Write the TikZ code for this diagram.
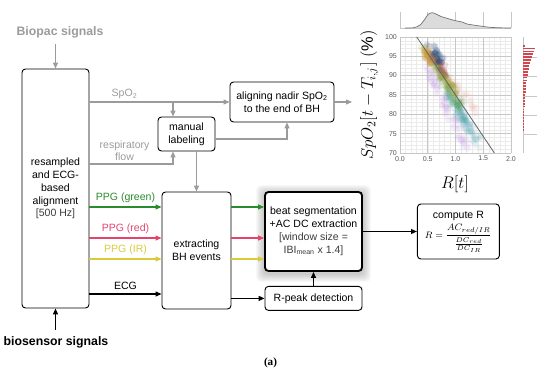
\documentclass[tikz,border=0pt]{standalone}
\usepackage{fontspec}
\setmainfont{Liberation Sans}
\newfontfamily\capfont{Liberation Serif}
\usepackage{tikz}
\usetikzlibrary{arrows.meta, positioning, calc, backgrounds}
\definecolor{lgray}{HTML}{9B9B9B}
\definecolor{txtgray}{HTML}{3C3C3C}
\definecolor{ppggreen}{HTML}{2A8A2E}
\definecolor{ppgred}{HTML}{E5436C}
\definecolor{ppgir}{HTML}{D8CB3A}
\definecolor{histred}{HTML}{D2474D}
\definecolor{scolive}{HTML}{A6A638}
\definecolor{scnavy}{HTML}{2F4F7F}
\definecolor{scmaroon}{HTML}{8F2F3F}
\definecolor{scgreen}{HTML}{5F9F4F}
\definecolor{sclilac}{HTML}{C9A6E6}
\definecolor{scteal}{HTML}{4FA6A6}
\definecolor{scpink}{HTML}{E8B0A8}
\definecolor{scorange}{HTML}{D79A3F}
\definecolor{scblue}{HTML}{8AB8D8}

\begin{document}
\begin{tikzpicture}[x=0.03cm, y=-0.03cm, font=\fontsize{9}{11}\selectfont,
    box/.style={draw, rounded corners=3pt, line width=0.8pt, fill=white, align=center, inner sep=0pt},
    garr/.style={draw=lgray, line width=1pt, -{Triangle[length=5pt, width=4.2pt]}},
    barr/.style={draw=black, line width=1pt, -{Triangle[length=5pt, width=4.2pt]}},
    carr/.style={draw=#1, line width=1pt, -{Triangle[length=5pt, width=4.2pt]}},
    glabel/.style={text=lgray, inner sep=2pt},
    minorg/.style={draw=black!8, line width=0.3pt},
    majorg/.style={draw=black!22, line width=0.6pt},
    tick/.style={font=\fontsize{6}{7}\selectfont, text=black!65, inner sep=2.5pt}]
    \useasboundingbox (0,0) rectangle (550,373);

    \node[font=\bfseries\fontsize{10.5}{12}\selectfont, text=lgray] (biopac) at (60,32) {Biopac signals};
    \node[box, minimum width=2.01cm, minimum height=7.17cm] (align) at (55.5,188.5) {resampled\\and ECG-\\based\\alignment\\{\color{txtgray}[500 Hz]}};
    \node[font=\bfseries\fontsize{10.5}{12}\selectfont] (bios) at (56,342) {biosensor signals};
    \node[box, minimum width=1.71cm, minimum height=1.02cm] (manual) at (186.5,134) {manual\\labeling};
    \node[box, minimum width=3.12cm, minimum height=1.2cm] (nadir) at (282,102) {aligning nadir SpO\textsubscript{2}\\to the end of BH};
    \node[box, minimum width=2.07cm, minimum height=3.51cm] (extract) at (196.5,250.5) {extracting\\BH events};
    \node[box, line width=1.6pt, minimum width=2.91cm, minimum height=2.37cm] (beat) at (313.5,231.5) {beat segmentation\\+AC DC extraction\\{\color{txtgray}[window size =}\\{\color{txtgray}IBI\textsubscript{mean} x 1.4]}};
    \node[box, minimum width=2.91cm, minimum height=0.72cm, below=0.42cm of beat] (rpeak) {R-peak detection};
    \node[box, minimum width=2.46cm, minimum height=1.65cm, right=1.62cm of beat] (comp) {compute R\\[2pt]{\fontsize{8}{9}\selectfont $\displaystyle R=\frac{AC_{red/IR}}{\frac{DC_{red}}{DC_{IR}}}$}};
    \node[font=\capfont\bfseries\fontsize{9.5}{10}\selectfont] (cap) at (270.5,363) {(a)};

    \begin{scope}[on background layer]
        \foreach \s in {1,...,8}
            \fill[black, opacity=0.028, rounded corners=4pt] ($(beat.south west)+(-\s,\s+2)$) rectangle ($(beat.north east)+(\s,-\s+2)$);
    \end{scope}

    \coordinate (mtop) at ([xshift=-0.405cm]manual.north);
    \coordinate (mbot) at ([xshift=-0.405cm]manual.south);
    \coordinate (gin) at ([yshift=1.305cm]extract.west);
    \coordinate (rin) at ([yshift=0.375cm]extract.west);
    \coordinate (iin) at ([yshift=-0.255cm]extract.west);
    \coordinate (ein) at ([yshift=-1.305cm]extract.west);
    \coordinate (plotin) at (352,102);

    \draw[garr, shorten <=2pt] (biopac.south -| align.north) -- (align.north);
    \draw[barr, shorten <=2pt] (bios.north -| align.south) -- (align.south);
    \draw[garr] (align.east |- nadir.west) -- node[glabel, above, pos=0.25] (spolbl) {SpO\textsubscript{2}} (nadir.west);
    \draw[garr] (mtop |- nadir.west) -- (mtop);
    \draw[garr] ([yshift=0.735cm]align.east) -| node[glabel, above, pos=0.21, align=center] (resplbl) {respiratory\\flow} (mbot);
    \draw[garr] ([yshift=-0.15cm]manual.east) -| ([xshift=0.15cm]nadir.south);
    \draw[garr] (manual.south -| extract.north) -- (extract.north);
    \draw[garr] (nadir.east) -- (plotin);

    \draw[carr=ppggreen] (align.east |- gin) -- node[above, text=ppggreen] (glbl) {PPG (green)} (gin);
    \draw[carr=ppgred] (align.east |- rin) -- node[above, text=ppgred] (rlbl) {PPG (red)} (rin);
    \draw[carr=ppgir] (align.east |- iin) -- node[above, text=ppgir] (ilbl) {PPG (IR)} (iin);
    \draw[barr] (align.east |- ein) -- node[above] (elbl) {ECG} (ein);
    \draw[carr=ppggreen] (extract.east |- gin) -- (beat.west |- gin);
    \draw[carr=ppgred] (extract.east |- rin) -- (beat.west |- rin);
    \draw[carr=ppgir] (extract.east |- iin) -- (beat.west |- iin);
    \draw[barr] (extract.east |- rpeak.west) -- (rpeak.west);
    \draw[barr] (rpeak.north) -- (beat.south);
    \draw[barr] (beat.east) -- (comp.west |- beat.east);

    \draw[majorg] (400,28) -- (511,28);
    \foreach \xx in {400,427.75,455.5,483.25,511}
        \draw[majorg] (\xx,12) -- (\xx,28);
    \draw[draw=black!55, fill=black!14, line width=0.6pt] plot[smooth] coordinates {(405,28) (414,27.7) (420,25) (425,19) (428,14.5) (432,12.7) (436,14) (441,16.5) (447,18.3) (452,19.8) (457,21) (462,22) (467,24) (473,25) (480,26) (490,27.3) (500,27.8) (511,28)};

    \draw[majorg] (523,37) -- (523,153);
    \foreach \yy in {57.3,76.6,96,115.4,134.7}
        \draw[majorg] (523,\yy) -- (537,\yy);
    \fill[histred] (523,44.8) rectangle (525,46.6);
    \foreach \i in {1,...,29}{
        \pgfmathsetmacro\yc{45.7+2.9*\i}
        \pgfmathsetmacro\bl{12*exp(-(\yc-48.6)/28)}
        \fill[histred] (523,\yc-0.9) rectangle (523+\bl,\yc+0.9);
    }

    \begin{scope}[shift={(400,423.9)}, x=1.665cm, y=0.1161cm]
        \draw[minorg] (0,70) grid[xstep=0.1, ystep=1] (2,100);
        \draw[majorg] (0,70) grid[xstep=0.5, ystep=5] (2,100);
        \begin{scope}
            \clip (0,70) rectangle (2,100);
            \pgfmathsetseed{42}
            \foreach \col/\ra/\sa/\rb/\sb/\n/\op in {sclilac/0.5/92/1.2/72/110/0.1, scpink/0.7/92/1.35/81/60/0.1, scblue/1.0/82/1.45/72/40/0.12, scteal/0.85/86/1.4/73/80/0.12, scgreen/0.6/93/1.1/82/80/0.12, scolive/0.38/96.8/1.0/86/90/0.13, scmaroon/0.55/95/0.8/91/30/0.15, scnavy/0.5/97.3/0.75/94/40/0.16, scorange/0.42/97/0.58/93.5/28/0.16}{
                \foreach \k in {1,...,\n}{
                    \pgfmathsetmacro\tpar{rnd}
                    \pgfmathsetmacro\rval{\ra+\tpar*(\rb-\ra)+0.065*rand}
                    \pgfmathsetmacro\sval{\sa+\tpar*(\sb-\sa)+1.5*rand}
                    \fill[\col, opacity=\op] (\rval,\sval) circle[radius=2.8pt];
                }
            }
        \end{scope}
        \draw[draw=black!60, line width=0.7pt] (0.3,100) -- (1.7,70);
        \foreach \v [count=\i] in {0.0,0.5,1.0,1.5,2.0}
            \node[tick, below] (xt\i) at (\v,70) {\v};
        \foreach \v [count=\i] in {70,75,...,100}
            \node[tick, left] (yt\i) at (0,\v) {\v};
    \end{scope}
    \node[rotate=90, font=\fontsize{14}{16}\selectfont] (ylab) at (369,95) {$SpO_2[t-T_{i,j}]\ (\%)$};
    \node[font=\fontsize{15}{17}\selectfont] (xlab) at (455,184) {$R[t]$};
\end{tikzpicture}
\end{document}
